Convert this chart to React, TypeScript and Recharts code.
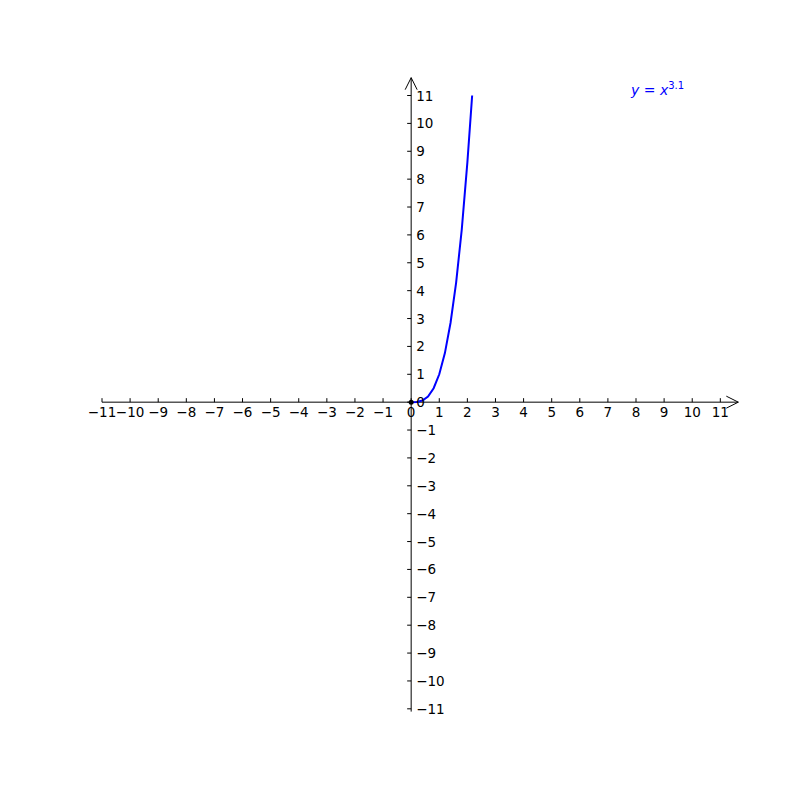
import React from 'react';
import { ComposedChart, Line, Scatter, XAxis, YAxis, ReferenceLine } from 'recharts';

const curveX = [0, 0.2, 0.4, 0.6, 0.8, 1.0, 1.2, 1.4, 1.6, 1.8, 2.0, 2.17];
const curveY = [0, 0.007, 0.06, 0.2, 0.5, 1.0, 1.76, 2.84, 4.29, 6.19, 8.6, 11.0];

const xTicks = [-11, -10, -9, -8, -7, -6, -5, -4, -3, -2, -1, 0, 1, 2, 3, 4, 5, 6, 7, 8, 9, 10, 11];
const yTicks = [-11, -10, -9, -8, -7, -6, -5, -4, -3, -2, -1, 0, 1, 2, 3, 4, 5, 6, 7, 8, 9, 10, 11];

const xDomain = [-11, 11.7];
const yDomain = [-11.15, 11.7];
const xAxisEnds = [-11, 11.64];
const yAxisEnds = [-11.1, 11.64];

const curveData = curveX.map((x, i) => ({ x, y: curveY[i] }));
const xTickData = xTicks.map((x) => ({ x, y: 0 }));
const yTickData = yTicks.map((y) => ({ x: 0, y }));

const FONT = '"DejaVu Sans", sans-serif';
const fmt = (v: number) => (v < 0 ? '\u2212' + Math.abs(v) : String(v));

const XTick = (props: any) => {
    const { cx, cy, payload } = props;
    return (
        <g>
            <line x1={cx} y1={cy} x2={cx} y2={cy - 4} stroke="#000" strokeWidth={1} />
            <text x={cx} y={cy + 15} textAnchor="middle" fontSize={13.5} fontFamily={FONT} fill="#000">
                {fmt(payload.x)}
            </text>
        </g>
    );
};

const YTick = (props: any) => {
    const { cx, cy, payload } = props;
    return (
        <g>
            <line x1={cx} y1={cy} x2={cx - 4} y2={cy} stroke="#000" strokeWidth={1} />
            <text x={cx + 5} y={cy + 5} textAnchor="start" fontSize={13.5} fontFamily={FONT} fill="#000">
                {fmt(payload.y)}
            </text>
        </g>
    );
};

const RightArrow = (props: any) => {
    const { cx, cy } = props;
    return <polyline points={`${cx - 12},${cy - 6} ${cx},${cy} ${cx - 12},${cy + 6}`} fill="none" stroke="#000" strokeWidth={1} />;
};

const UpArrow = (props: any) => {
    const { cx, cy } = props;
    return <polyline points={`${cx - 6},${cy + 12} ${cx},${cy} ${cx + 6},${cy + 12}`} fill="none" stroke="#000" strokeWidth={1} />;
};

const OriginDot = (props: any) => {
    const { cx, cy } = props;
    return <circle cx={cx} cy={cy} r={2.5} fill="#000" />;
};

export default function App() {
    return (
        <div style={{ position: 'absolute', left: 0, top: 0, width: 800, height: 800, background: '#fff' }}>
            <ComposedChart width={800} height={800} margin={{ top: 76, right: 60, bottom: 87, left: 102 }}>
                <XAxis type="number" dataKey="x" domain={xDomain} hide />
                <YAxis type="number" dataKey="y" domain={yDomain} hide />
                <ReferenceLine segment={[{ x: xAxisEnds[0], y: 0 }, { x: xAxisEnds[1], y: 0 }]} stroke="#000" strokeWidth={1} />
                <ReferenceLine segment={[{ x: 0, y: yAxisEnds[0] }, { x: 0, y: yAxisEnds[1] }]} stroke="#000" strokeWidth={1} />
                <Scatter data={xTickData} shape={<XTick />} isAnimationActive={false} />
                <Scatter data={yTickData} shape={<YTick />} isAnimationActive={false} />
                <Scatter data={[{ x: xAxisEnds[1], y: 0 }]} shape={<RightArrow />} isAnimationActive={false} />
                <Scatter data={[{ x: 0, y: yAxisEnds[1] }]} shape={<UpArrow />} isAnimationActive={false} />
                <Line data={curveData} dataKey="y" type="linear" stroke="#0000ff" strokeWidth={2} dot={false} isAnimationActive={false} />
                <Scatter data={[{ x: 0, y: 0 }]} shape={<OriginDot />} isAnimationActive={false} />
            </ComposedChart>
            <div style={{ position: 'absolute', left: 631, top: 80, color: '#0000ff', fontFamily: FONT, fontSize: 14, whiteSpace: 'nowrap', lineHeight: '20px' }}>
                <i>y</i>
                <span> = </span>
                <i>x</i>
                <sup style={{ fontSize: 10, verticalAlign: 0, position: 'relative', top: -6 }}>3.1</sup>
            </div>
        </div>
    );
}
